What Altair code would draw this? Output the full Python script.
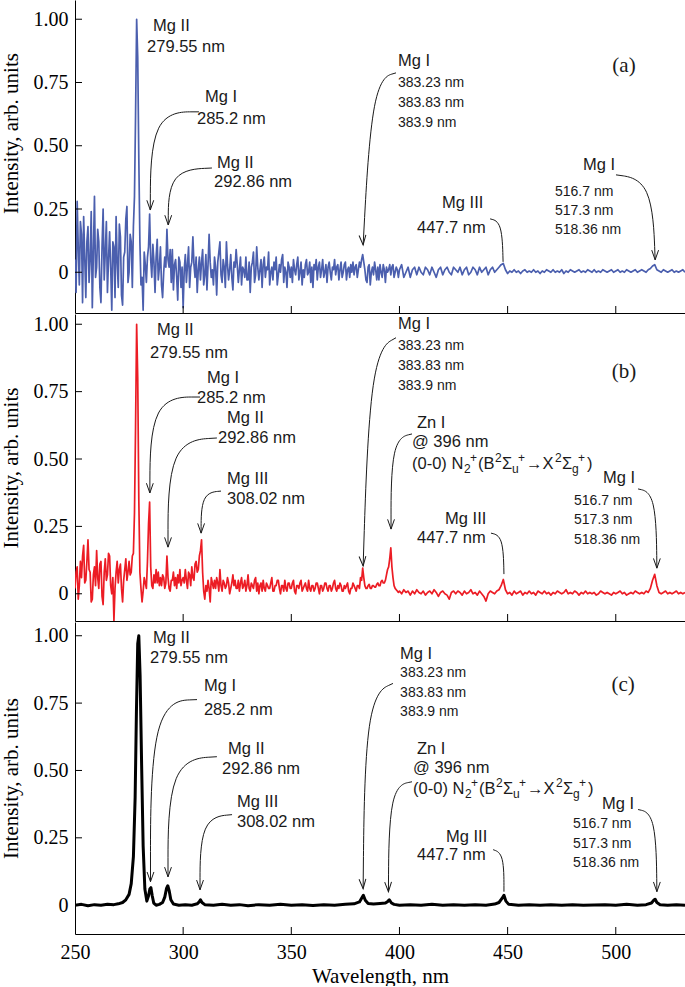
import altair as alt
import pandas as pd

SERIF = "Liberation Serif"
SANS = "Liberation Sans"
INK = "#1a1a1a"

# ---------------- data ----------------
# sampling grid: 0.5 nm from 250 to 400 nm, 1 nm from 401 to 532 nm
wavelength = [250 + 0.5 * i for i in range(301)] + list(range(401, 533))

intensity_a = [
    # 250.0 - 299.5 (0.5 nm)
    0.05, -0.08, 0.28, 0.10, -0.05, 0.20, 0.15, -0.12, 0.22, 0.06,
    -0.10, 0.12, 0.18, -0.04, 0.05, 0.24, -0.14, 0.08, 0.30, -0.02,
    0.02, 0.17, 0.12, -0.06, -0.12, 0.10, 0.25, -0.03, 0.08, 0.20,
    -0.08, 0.05, 0.16, 0.02, -0.15, 0.12, 0.10, -0.10, 0.22, 0.04,
    -0.06, 0.19, 0.14, -0.09, -0.13, 0.06, 0.08, 0.21, 0.26, -0.04,
    0.00, 0.15, 0.12, -0.06, 0.18, 0.30, 0.62, 1.00, 0.85, 0.45,
    0.12, -0.05, -0.02, -0.15, 0.08, 0.03, -0.04, 0.06, 0.10, 0.23,
    0.05, -0.02, 0.11, 0.04, -0.08, 0.06, 0.13, -0.03, 0.02, 0.10,
    -0.05, -0.10, 0.00, 0.06, 0.02, 0.17, 0.05, 0.02, 0.09, -0.04,
    0.09, -0.07, 0.03, 0.05, -0.02, -0.11, 0.06, 0.04, -0.06, 0.02,
    # 300.0 - 349.5
    -0.14, 0.01, 0.07, -0.04, 0.03, 0.10, -0.06, 0.02, 0.04, 0.14,
    0.03, -0.02, 0.06, -0.08, 0.01, 0.06, -0.03, 0.04, 0.09, -0.05,
    -0.01, 0.07, -0.07, 0.03, 0.15, 0.04, -0.02, 0.01, -0.05, 0.06,
    0.02, -0.09, 0.04, 0.08, 0.12, -0.01, -0.04, 0.05, 0.02, -0.06,
    0.12, 0.03, -0.03, 0.01, 0.07, -0.02, -0.07, 0.04, 0.02, 0.09,
    0.03, -0.04, 0.01, 0.06, -0.05, 0.02, 0.01, -0.02, 0.06, -0.03,
    -0.03, 0.04, -0.08, 0.02, 0.04, 0.08, -0.04, -0.01, 0.10, 0.02,
    -0.03, 0.01, 0.05, -0.06, 0.03, 0.06, -0.02, 0.02, 0.01, 0.08,
    -0.05, 0.00, 0.02, -0.03, 0.04, 0.01, 0.06, -0.05, -0.01, 0.03,
    0.00, 0.05, 0.07, -0.04, 0.02, 0.00, -0.06, 0.04, 0.02, -0.02,
    # 350.0 - 399.5
    0.02, -0.04, 0.05, 0.01, -0.01, 0.03, 0.06, -0.03, 0.00, 0.04,
    -0.05, 0.01, -0.02, 0.03, 0.05, -0.01, 0.00, 0.04, -0.04, 0.02,
    -0.06, 0.03, 0.01, 0.05, -0.03, 0.02, 0.04, -0.02, 0.01, 0.05,
    -0.02, 0.00, 0.03, -0.04, 0.02, 0.04, 0.00, -0.03, 0.02, 0.01,
    0.05, -0.01, 0.02, 0.03, -0.03, 0.01, 0.04, -0.02, 0.00, 0.03,
    0.04, -0.03, 0.01, 0.02, -0.02, 0.03, 0.00, 0.04, -0.01, 0.02,
    0.03, -0.02, 0.01, 0.04, 0.02, 0.05, 0.07, 0.04, 0.01, -0.03,
    -0.04, 0.02, 0.03, -0.05, 0.00, 0.02, -0.01, 0.04, 0.01, -0.03,
    0.02, -0.03, 0.03, 0.00, -0.02, 0.03, 0.01, -0.04, 0.02, 0.00,
    0.01, 0.03, -0.01, 0.02, 0.03, -0.02, 0.00, 0.02, 0.01, -0.02,
    # 400.0
    0.01,
    # 401 - 409 (1 nm)
    0.03, -0.02, 0.00, 0.02, -0.02, 0.01, 0.02, -0.01, 0.02,
    0.00, -0.01, 0.02, 0.01, -0.01, 0.02, 0.00, -0.02, 0.01, 0.02,
    -0.01, 0.01, 0.02, 0.00, -0.01, 0.02, 0.01, 0.00, 0.02, -0.01,
    0.01, 0.02, -0.01, 0.00, 0.02, 0.01, -0.01, 0.02, 0.00, 0.01,
    0.02, -0.01, 0.01, 0.02, 0.00, 0.01, 0.02, 0.03, 0.035, 0.01,
    -0.005, 0.005, 0.0, 0.01, 0.0, 0.005, -0.005, 0.005, 0.01, 0.0,
    0.005, 0.0, 0.01, 0.0, 0.005, -0.005, 0.005, 0.0, 0.01, 0.005,
    0.0, 0.01, 0.0, 0.005, 0.0, 0.01, -0.005, 0.005, 0.0, 0.01,
    0.005, 0.0, 0.005, 0.01, 0.0, 0.005, 0.0, 0.01, 0.005, 0.0,
    0.01, 0.0, 0.005, 0.0, 0.01, 0.005, 0.0, 0.005, 0.01, 0.0,
    0.005, 0.01, 0.0, 0.005, 0.0, 0.01, 0.005, 0.0, 0.005, 0.01,
    0.0, 0.005, 0.01, 0.005, 0.0, 0.01, 0.015, 0.025, 0.03, 0.01,
    0.005, 0.0, 0.01, 0.005, 0.0, 0.005, 0.01, 0.0, 0.005, 0.0,
    0.005, 0.01, 0.0,
]

intensity_b = [
    # 250.0 - 299.5 (0.5 nm)
    0.02, 0.08, 0.10, -0.02, 0.03, 0.12, 0.06, 0.14, 0.18, 0.04,
    0.05, 0.12, 0.20, 0.09, 0.08, -0.03, -0.02, 0.07, 0.10, 0.03,
    0.16, 0.06, 0.02, 0.11, 0.12, -0.01, -0.04, 0.08, 0.13, 0.05,
    0.07, 0.15, 0.14, 0.03, 0.00, 0.06, -0.10, 0.02, 0.08, 0.12,
    0.04, 0.09, 0.11, 0.02, -0.03, 0.05, 0.09, 0.13, 0.05, 0.08,
    0.12, 0.07, 0.08, 0.14, 0.15, 0.30, 0.62, 1.00, 0.80, 0.35,
    0.08, 0.02, -0.03, 0.01, 0.06, 0.04, 0.02, 0.12, 0.26, 0.34,
    0.10, 0.03, 0.02, 0.07, 0.04, 0.09, 0.04, 0.08, 0.03, 0.06,
    0.03, 0.07, 0.06, 0.02, 0.04, 0.14, 0.06, 0.02, 0.01, 0.05,
    0.05, 0.08, 0.03, 0.06, 0.02, 0.07, 0.04, 0.09, 0.03, 0.05,
    # 300.0 - 349.5
    0.06, 0.04, 0.09, 0.05, 0.02, 0.08, 0.07, 0.03, 0.10, 0.06,
    0.05, 0.11, 0.12, 0.08, 0.09, 0.14, 0.16, 0.20, 0.08, 0.01,
    -0.02, 0.03, 0.01, 0.05, 0.02, -0.03, 0.06, 0.04, 0.02, 0.05,
    0.02, 0.06, 0.04, 0.01, 0.09, 0.03, 0.01, 0.05, 0.04, 0.02,
    0.03, 0.06, 0.04, 0.00, 0.02, 0.04, 0.07, 0.03, 0.05, 0.02,
    0.02, 0.05, 0.01, 0.04, 0.06, 0.02, 0.03, 0.05, 0.01, 0.03,
    0.07, 0.02, 0.01, 0.04, 0.03, 0.02, 0.05, 0.06, 0.01, 0.04,
    0.00, 0.03, 0.04, 0.01, 0.05, 0.02, 0.01, 0.04, 0.03, 0.02,
    0.02, 0.04, 0.06, 0.01, 0.01, 0.03, 0.03, 0.05, 0.05, 0.02,
    0.00, 0.03, 0.03, 0.01, 0.05, 0.02, 0.01, 0.04, 0.04, 0.02,
    # 350.0 - 399.5
    0.02, 0.04, 0.05, 0.01, 0.00, 0.03, 0.03, 0.02, 0.04, 0.05,
    0.01, 0.02, 0.03, 0.04, 0.02, 0.01, 0.05, 0.02, 0.01, 0.03,
    0.03, 0.01, 0.02, 0.04, 0.04, 0.02, 0.00, 0.03, 0.03, 0.01,
    0.02, 0.04, 0.04, 0.02, 0.01, 0.03, 0.03, 0.01, 0.02, 0.04,
    0.05, 0.02, 0.01, 0.03, 0.02, 0.04, 0.03, 0.01, 0.01, 0.03,
    0.02, 0.03, 0.04, 0.01, 0.00, 0.02, 0.02, 0.04, 0.03, 0.02,
    0.01, 0.03, 0.03, 0.02, 0.06, 0.05, 0.095, 0.06, 0.03, 0.02,
    0.02, 0.03, 0.035, 0.02, 0.02, 0.03, 0.03, 0.025, 0.025, 0.035,
    0.04, 0.03, 0.03, 0.045, 0.05, 0.04, 0.04, 0.05, 0.07, 0.09,
    0.10, 0.13, 0.17, 0.10, 0.06, 0.03, 0.02, 0.015, 0.01, 0.005,
    # 400.0
    0.01,
    # 401 - 409 (1 nm)
    0.0, 0.015, 0.005, 0.01, -0.005, 0.01, 0.0, 0.015, 0.005,
    0.0, 0.01, -0.005, 0.005, 0.01, 0.0, 0.015, 0.005, -0.01, 0.005,
    0.01, 0.0, -0.005, -0.02, 0.005, 0.01, 0.0, 0.01, 0.005, -0.005,
    0.01, 0.0, 0.005, 0.015, 0.0, 0.005, -0.005, 0.01, 0.0, -0.01,
    -0.027, 0.0, 0.01, 0.005, 0.0, 0.01, 0.015, 0.03, 0.053, 0.015,
    0.0, 0.005, -0.005, 0.01, 0.0, 0.005, 0.01, -0.005, 0.005, 0.0,
    0.01, 0.0, 0.005, -0.005, 0.01, 0.005, 0.0, 0.01, 0.0, 0.005,
    -0.005, 0.005, 0.0, 0.01, 0.005, 0.0, 0.005, 0.015, 0.0, 0.005,
    0.0, 0.01, 0.005, -0.005, 0.005, 0.0, 0.01, 0.0, 0.005, 0.0,
    0.005, -0.005, 0.0, 0.01, 0.005, 0.0, 0.005, 0.0, -0.005, 0.005,
    0.0, 0.005, 0.01, 0.0, 0.005, -0.005, 0.0, 0.005, 0.0, 0.01,
    0.005, 0.0, 0.005, 0.0, 0.01, 0.005, 0.02, 0.05, 0.072, 0.03,
    0.005, 0.0, 0.005, 0.01, 0.0, 0.005, 0.0, 0.005, 0.01, 0.0,
    0.005, 0.0, 0.005,
]

wavelength_c = [
    250, 253, 256, 259, 262, 265, 268, 270, 272, 273.5,
    275, 276, 277, 277.8, 278.4, 279.0, 279.5, 280.1, 280.8, 281.5,
    282.3, 283.2, 284.0, 284.6, 285.1, 285.7, 286.4, 287.5, 289, 290.5,
    291.5, 292.3, 292.9, 293.5, 294.3, 295.5, 298, 301, 304, 306.5,
    307.4, 308.0, 308.7, 310, 314, 318, 322, 326, 330, 335,
    340, 345, 350, 355, 360, 365, 370, 375, 379, 381.5,
    382.5, 383.3, 384.2, 385.5, 388, 391, 393.5, 394.6, 395.3, 396.3,
    397.5, 400, 405, 410, 415, 420, 425, 430, 435, 440,
    444, 446, 447.4, 448.3, 449.2, 450.5, 455, 460, 465, 470,
    475, 480, 485, 490, 495, 500, 505, 510, 514, 516.5,
    517.5, 518.2, 519.0, 520.5, 524, 528, 532,
]
intensity_c = [
    0.000, 0.003, -0.002, 0.002, 0.000, 0.003, 0.002, 0.005, 0.010, 0.020,
    0.040, 0.080, 0.180, 0.400, 0.720, 0.970, 1.000, 0.850, 0.520, 0.220,
    0.060, 0.015, 0.035, 0.060, 0.065, 0.035, 0.008, 0.000, 0.003, 0.010,
    0.030, 0.062, 0.072, 0.055, 0.020, 0.004, 0.000, 0.002, 0.000, 0.005,
    0.012, 0.020, 0.010, 0.002, 0.000, 0.003, 0.000, 0.002, -0.002, 0.002,
    0.000, 0.003, 0.000, 0.002, -0.001, 0.002, 0.000, 0.003, 0.005, 0.012,
    0.026, 0.037, 0.018, 0.006, 0.004, 0.006, 0.008, 0.014, 0.020, 0.008,
    0.003, 0.000, 0.002, 0.000, 0.003, 0.000, 0.002, 0.000, 0.002, 0.000,
    0.004, 0.010, 0.025, 0.037, 0.015, 0.003, 0.000, 0.002, 0.000, 0.002,
    0.000, 0.002, 0.000, 0.001, 0.002, 0.000, 0.003, 0.000, 0.002, 0.008,
    0.018, 0.022, 0.010, 0.002, 0.000, 0.002, 0.000,
]

assert len(intensity_a) == len(wavelength), len(intensity_a)
assert len(intensity_b) == len(wavelength), len(intensity_b)
assert len(intensity_c) == len(wavelength_c)

x_tick_values = [300, 350, 400, 450, 500]
x_label_values = [250, 300, 350, 400, 450, 500]
y_tick_values = [0, 0.25, 0.5, 0.75, 1.0]
X_DOMAIN = [250, 532]

# annotation texts: (text, wavelength nm, intensity, font size)
labels_a = [
    ("Mg II", 286.1, 0.974, 16.5), ("279.55 nm", 283.3, 0.890, 16.5),
    ("Mg I", 310.1, 0.693, 16.5), ("285.2 nm", 306.4, 0.605, 16.5),
    ("Mg II", 315.6, 0.432, 16.5), ("292.86 nm", 314.3, 0.357, 16.5),
    ("Mg I", 399.3, 0.835, 16.5), ("383.23 nm", 399.3, 0.748, 14),
    ("383.83 nm", 399.3, 0.669, 14), ("383.9 nm", 399.3, 0.590, 14),
    ("Mg III", 419.7, 0.274, 16.5), ("447.7 nm", 408.1, 0.175, 16.5),
    ("Mg I", 484.9, 0.424, 16.5), ("516.7 nm", 471.9, 0.317, 14),
    ("517.3 nm", 471.9, 0.242, 14), ("518.36 nm", 471.9, 0.167, 14),
]
labels_b = [
    ("Mg II", 287.9, 0.979, 16.5), ("279.55 nm", 284.7, 0.893, 16.5),
    ("Mg I", 311.0, 0.801, 16.5), ("285.2 nm", 306.4, 0.726, 16.5),
    ("Mg II", 320.3, 0.652, 16.5), ("292.86 nm", 316.1, 0.578, 16.5),
    ("Mg III", 320.3, 0.426, 16.5), ("308.02 nm", 320.3, 0.353, 16.5),
    ("Mg I", 399.3, 1.000, 16.5), ("383.23 nm", 399.3, 0.920, 14),
    ("383.83 nm", 399.3, 0.846, 14), ("383.9 nm", 399.3, 0.772, 14),
    ("Zn I", 408.1, 0.634, 16.5), ("@ 396 nm", 405.8, 0.562, 16.5),
    ("Mg I", 494.1, 0.429, 16.5), ("516.7 nm", 480.7, 0.344, 14),
    ("517.3 nm", 480.7, 0.273, 14), ("518.36 nm", 480.7, 0.199, 14),
    ("Mg III", 421.1, 0.277, 16.5), ("447.7 nm", 408.1, 0.207, 16.5),
]
labels_c = [
    ("Mg II", 286.1, 0.990, 16.5), ("279.55 nm", 284.7, 0.916, 16.5),
    ("Mg I", 309.6, 0.812, 16.5), ("285.2 nm", 309.6, 0.726, 16.5),
    ("Mg II", 320.7, 0.581, 16.5), ("292.86 nm", 318.0, 0.507, 16.5),
    ("Mg III", 324.9, 0.384, 16.5), ("308.02 nm", 324.9, 0.310, 16.5),
    ("Mg I", 400.3, 0.934, 16.5), ("383.23 nm", 400.3, 0.860, 14),
    ("383.83 nm", 400.3, 0.789, 14), ("383.9 nm", 400.3, 0.718, 14),
    ("Zn I", 408.1, 0.581, 16.5), ("@ 396 nm", 406.3, 0.510, 16.5),
    ("Mg I", 493.6, 0.377, 16.5), ("516.7 nm", 480.2, 0.302, 14),
    ("517.3 nm", 480.2, 0.228, 14), ("518.36 nm", 480.2, 0.157, 14),
    ("Mg III", 421.5, 0.254, 16.5), ("447.7 nm", 408.1, 0.187, 16.5),
]
panel_letters = {"a": ("(a)", 503.8, 0.815), "b": ("(b)", 503.8, 0.823), "c": ("(c)", 503.4, 0.819)}

# N2+ band label pieces: (text, x offset px, kind)
formula_pieces = [
    ("(0-0) N", 0, "n"), ("2", 52, "sub"), ("+", 58, "sup"), ("(B", 66, "n"),
    ("2", 83, "sup"), ("Σ", 90, "n"), ("u", 100, "sub"), ("+", 106, "sup"),
    ("→X", 114, "n"), ("2", 143, "sup"), ("Σ", 150, "n"), ("g", 160, "sub"),
    ("+", 166, "sup"), (")", 175, "n"),
]
formula_anchor = {"b": (405.8, 0.482), "c": (406.3, 0.430)}

# arrows: (path points [(nm, intensity)], has_head, head angle)
arrows_a = [
    ([(307.3, 0.634), (285.0, 0.634), (284.8, 0.246)], True, 0),
    ([(313.3, 0.412), (293.2, 0.404), (293.1, 0.187)], True, 0),
    ([(398.4, 0.788), (387.3, 0.760), (383.2, 0.108)], True, 356),
    ([(441.9, 0.211), (447.4, 0.199), (447.9, 0.041)], False, 0),
    ([(500.1, 0.385), (516.8, 0.365), (518.2, 0.049)], True, 0),
]
arrows_b = [
    ([(307.8, 0.730), (284.8, 0.730), (284.6, 0.374)], True, 0),
    ([(315.6, 0.578), (293.0, 0.567), (293.0, 0.173)], True, 0),
    ([(317.5, 0.381), (308.3, 0.374), (308.3, 0.225)], True, 0),
    ([(398.4, 0.950), (386.4, 0.895), (383.2, 0.103)], True, 356),
    ([(405.8, 0.593), (396.1, 0.574), (396.1, 0.240)], True, 0),
    ([(442.3, 0.225), (447.9, 0.214), (448.3, 0.073)], False, 0),
    ([(510.3, 0.389), (518.6, 0.374), (519.0, 0.095)], True, 0),
]
arrows_c = [
    ([(306.4, 0.763), (284.9, 0.756), (284.9, 0.087)], True, 0),
    ([(315.6, 0.551), (293.0, 0.540), (293.0, 0.105)], True, 0),
    ([(322.6, 0.336), (307.8, 0.325), (307.8, 0.057)], True, 0),
    ([(397.0, 0.823), (384.1, 0.775), (383.2, 0.061)], True, 356),
    ([(405.8, 0.458), (395.2, 0.441), (394.9, 0.050)], True, 358),
    ([(443.3, 0.206), (448.3, 0.191), (448.3, 0.050)], False, 0),
    ([(510.3, 0.355), (518.6, 0.340), (519.0, 0.050)], True, 0),
]

PX_PER_NM = 610 / (X_DOMAIN[1] - X_DOMAIN[0])


def make_panel(key, xs_vals, ys_vals, color, stroke_w, ydom, h, labels, arrows,
               bottom, title_y=None):
    xs = alt.Scale(domain=X_DOMAIN, nice=False, zero=False)
    ys = alt.Scale(domain=ydom, nice=False, zero=False)
    y_axis_kw = dict(
        values=y_tick_values,
        labelExpr="datum.value == 0 ? '0' : format(datum.value, '.2f')",
        ticks=False, grid=False, labelPadding=7, labelFont=SERIF,
        labelFontSize=20, labelColor="black", domainColor="black",
        domainWidth=1, title="Intensity, arb. units", titleFont=SERIF,
        titleFontSize=21, titleFontWeight="normal", titleColor="black",
        titlePadding=12, minExtent=42, maxExtent=42,
    )
    if title_y is not None:
        y_axis_kw["titleY"] = title_y
    y_axis = alt.Axis(**y_axis_kw)
    if bottom:
        x_axis = alt.Axis(
            values=x_label_values, ticks=False, grid=False, labelPadding=8,
            labelFlush=False,
            labelFont=SERIF, labelFontSize=20, labelColor="black",
            domainColor="black", domainWidth=1, title="Wavelength, nm",
            titleFont=SERIF, titleFontSize=21, titleFontWeight="normal",
            titleColor="black", titlePadding=3,
        )
    else:
        x_axis = alt.Axis(
            values=x_tick_values, ticks=False, labels=False, grid=False,
            domainColor="black", domainWidth=1, title=None,
            minExtent=0, maxExtent=0,
        )

    def X(field):
        return alt.X(field, scale=xs, axis=x_axis, title="Wavelength, nm" if bottom else None)

    def Y(field):
        return alt.Y(field, scale=ys, axis=y_axis, title="Intensity, arb. units")

    spec = alt.Chart(pd.DataFrame({"wl": xs_vals, "I": ys_vals})).mark_line(
        color=color, strokeWidth=stroke_w, clip=True, strokeJoin="round"
    ).encode(x=X("wl:Q"), y=Y("I:Q"))

    xt = alt.Chart(pd.DataFrame({"t": x_tick_values})).mark_rule(
        color="black", strokeWidth=1
    ).encode(x=X("t:Q"), y=alt.value(h), y2=alt.value(h - 7))
    yt = alt.Chart(pd.DataFrame({"t": y_tick_values})).mark_rule(
        color="black", strokeWidth=1
    ).encode(y=Y("t:Q"), x=alt.value(0), x2=alt.value(7))

    ldf = pd.DataFrame(labels, columns=["t", "nm", "v", "fs"])
    txt = alt.Chart(ldf).mark_text(
        font=SANS, align="left", baseline="middle", color=INK
    ).encode(
        x=X("nm:Q"), y=Y("v:Q"), text="t:N",
        size=alt.Size("fs:Q", scale=None),
    )

    letter = panel_letters[key]
    let = alt.Chart(pd.DataFrame([{"t": letter[0], "nm": letter[1], "v": letter[2]}])).mark_text(
        font=SERIF, fontSize=21, align="center", baseline="middle", color=INK
    ).encode(x=X("nm:Q"), y=Y("v:Q"), text="t:N")

    path_rows, head_rows = [], []
    for i, (pts, has_head, ang) in enumerate(arrows):
        for j, (nm, v) in enumerate(pts):
            path_rows.append({"id": i, "o": j, "nm": nm, "v": v})
        if has_head:
            head_rows.append({"nm": pts[-1][0], "v": pts[-1][1], "ang": ang})
    arr = alt.Chart(pd.DataFrame(path_rows)).mark_line(
        color=INK, strokeWidth=1, interpolate="basis"
    ).encode(x=X("nm:Q"), y=Y("v:Q"), detail="id:N", order="o:Q")
    heads = alt.Chart(pd.DataFrame(head_rows)).mark_point(
        shape="M-0.35,-1L0,0L0.35,-1", size=380, filled=False, color=INK,
        strokeWidth=1, opacity=1
    ).encode(x=X("nm:Q"), y=Y("v:Q"), angle=alt.Angle("ang:Q", scale=None))

    layers = [spec, xt, yt, arr, heads, txt, let]

    if key in formula_anchor:
        anm, av = formula_anchor[key]
        rows = [{"t": t, "nm": anm + off / PX_PER_NM, "v": av, "k": k}
                for (t, off, k) in formula_pieces]
        fdf = pd.DataFrame(rows)
        for kind, fsz, dy in [("n", 16.5, 0), ("sub", 12, 5), ("sup", 12, -6)]:
            layers.append(
                alt.Chart(fdf[fdf["k"] == kind]).mark_text(
                    font=SANS, fontSize=fsz, align="left", baseline="middle",
                    color=INK, dy=dy
                ).encode(x=X("nm:Q"), y=Y("v:Q"), text="t:N")
            )

    return alt.layer(*layers).properties(width=610, height=h)


pa = make_panel("a", wavelength, intensity_a, "#4b5fae", 1.7, [-0.161, 1.076], 313,
                labels_a, arrows_a, bottom=False, title_y=133)
pb = make_panel("b", wavelength, intensity_b, "#ec1c24", 1.7, [-0.101, 1.038], 307,
                labels_b, arrows_b, bottom=False)
pc = make_panel("c", wavelength_c, intensity_c, "#000000", 3.0, [-0.107, 1.051], 312,
                labels_c, arrows_c, bottom=True)

chart = alt.vconcat(pa, pb, pc, spacing=0).properties(
    padding={"left": 0, "right": 0, "top": 0, "bottom": 0},
    background="white",
).configure_view(stroke=None)

chart.save("out.html", embed_options={"renderer": "svg", "actions": False})
